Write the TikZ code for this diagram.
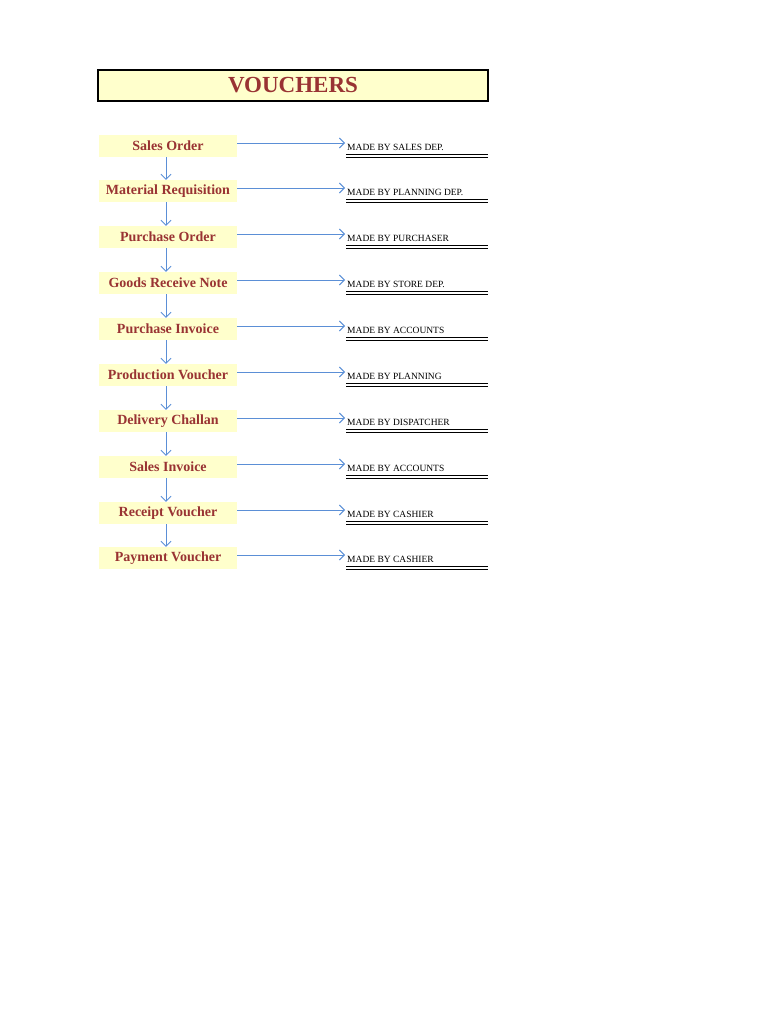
\documentclass[tikz,border=0pt]{standalone}
\usepackage{fontspec}
\setmainfont{Liberation Serif}
\usetikzlibrary{arrows.meta}
\definecolor{boxfill}{HTML}{FFFFCC}
\definecolor{titlered}{HTML}{993333}
\definecolor{arrowblue}{HTML}{5B8FD6}
\tikzset{
  stepbox/.style={fill=boxfill, draw=none, minimum width=138pt, minimum height=22pt, inner sep=0pt,
    text=titlered, font=\fontsize{14}{16}\selectfont\bfseries},
  madeby/.style={anchor=west, inner sep=0pt, font=\fontsize{9.5}{11}\selectfont},
  flow/.style={draw=arrowblue, line width=0.9pt, -{Straight Barb[length=5pt,width=10pt]}},
  dbl/.style={draw=black, line width=0.9pt}
}
\begin{document}
\begin{tikzpicture}[x=1pt,y=-1pt]
\useasboundingbox (0,0) rectangle (768,1024);
\node[draw=black, line width=2pt, fill=boxfill, minimum width=390pt, minimum height=31pt, inner sep=0pt,
  text=titlered, font=\fontsize{23}{25}\selectfont\bfseries] (title) at (293,85.5) {VOUCHERS};
\foreach \i/\y/\t/\m in {
  1/145/Sales Order/MADE BY SALES DEP.,
  2/190/Material Requisition/MADE BY PLANNING DEP.,
  3/236/Purchase Order/MADE BY PURCHASER,
  4/282/Goods Receive Note/MADE BY STORE DEP.,
  5/328/Purchase Invoice/MADE BY ACCOUNTS,
  6/374/Production Voucher/MADE BY PLANNING,
  7/420/Delivery Challan/MADE BY DISPATCHER,
  8/466/Sales Invoice/MADE BY ACCOUNTS,
  9/512/Receipt Voucher/MADE BY CASHIER,
  10/557/Payment Voucher/MADE BY CASHIER}{
  \node[stepbox] (b\i) at (168,\y+1) {\t};
  \coordinate (t\i) at (345,\y-2);
  \node[madeby] (m\i) at (347,\y+2.5) {\m};
  \coordinate (ua\i) at (346,\y+9.5);
  \coordinate (ub\i) at (488,\y+9.5);
  \coordinate (va\i) at (346,\y+12.5);
  \coordinate (vb\i) at (488,\y+12.5);
  \draw[flow] (b\i.east |- t\i) -- (t\i);
  \draw[dbl] (ua\i) -- (ub\i);
  \draw[dbl] (va\i) -- (vb\i);
}
\foreach \i [evaluate=\i as \j using int(\i+1)] in {1,...,9}{
  \draw[flow] ([xshift=-2pt]b\i.south) -- ([xshift=-2pt]b\j.north);
}
\end{tikzpicture}
\end{document}
